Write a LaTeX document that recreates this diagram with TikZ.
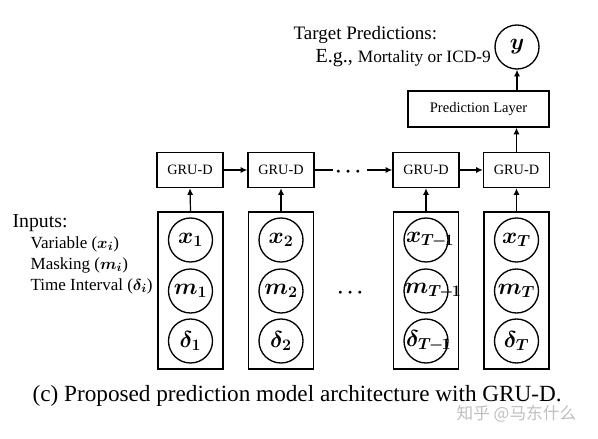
\documentclass[tikz,border=0pt]{standalone}
\usepackage{amsmath}
\usepackage{bm}
\usepackage{fontspec}
\setmainfont{Liberation Serif}
\newfontfamily\cjkfont{Noto Sans CJK SC}
\usetikzlibrary{arrows.meta}
\newcommand{\bsym}[1]{\bm{#1}}
\newcommand{\cl}[1]{\makebox[0pt]{#1}}
\newcommand{\cll}[1]{\makebox[0pt][l]{\hspace{-15pt}#1}}
\newcommand{\tmo}{\bm{T}\mkern-2mu\bm{-}\mkern-2mu\bm{1}}
\begin{document}
\begin{tikzpicture}[x=0.75pt,y=-0.75pt,
  line width=1pt,
  arr/.style={-{Latex[length=5pt,width=4.5pt]},line width=0.9pt},
  grubox/.style={draw,minimum width=49.5pt,minimum height=26.25pt,inner sep=0pt,font=\fontsize{10.7}{12}\selectfont},
  inrect/.style={draw,minimum width=48.75pt,minimum height=117.75pt,inner sep=0pt},
  var/.style={draw,circle,minimum size=33pt,inner sep=0pt,font=\fontsize{18}{20}\selectfont},
  lbl/.style={anchor=base west,inner sep=0pt},
]
\useasboundingbox[fill=white] (0,0) rectangle (598,438);

% GRU-D row
\node[grubox] (g1) at (190,170) {GRU-D};
\node[grubox] (g2) at (281,170) {GRU-D};
\node[grubox] (g3) at (426,170) {GRU-D};
\node[grubox] (g4) at (516.5,170) {GRU-D};

% prediction layer and output
\node[draw,minimum width=105.75pt,minimum height=27pt,inner sep=0pt,font=\fontsize{10.9}{12}\selectfont] (pl) at (478.5,109) {Prediction Layer};
\node[var] (y) at (517,47) {$\bsym{y}$};

% input rectangles
\node[inrect] (r1) at (190.5,290.5) {};
\node[inrect] (r2) at (281,290.5) {};
\node[inrect] (r3) at (426,290.5) {};
\node[inrect] (r4) at (516.5,290.5) {};

% circles
\node[var] (x1) at (190.5,240) {\cl{$\bsym{x}_{\bsym{1}}$}};
\node[var] (m1) at (190.5,291) {\cl{$\bsym{m}_{\bsym{1}}$}};
\node[var] (d1) at (190.5,341) {\cl{$\bsym{\delta}_{\bsym{1}}$}};
\node[var] (x2) at (281,240) {\cl{$\bsym{x}_{\bsym{2}}$}};
\node[var] (m2) at (281,291) {\cl{$\bsym{m}_{\bsym{2}}$}};
\node[var] (d2) at (281,341) {\cl{$\bsym{\delta}_{\bsym{2}}$}};
\node[var] (x3) at (426,240) {\cll{$\bsym{x}_{\tmo}$}};
\node[var] (m3) at (426,291) {\cll{\hspace{-1pt}$\bsym{m}_{\tmo}$}};
\node[var] (d3) at (426,341) {\cll{$\bsym{\delta}_{\tmo}$}};
\node[var] (x4) at (516.5,240) {\cl{$\bsym{x}_{\bsym{T}}$}};
\node[var] (m4) at (516.5,291) {\cl{$\bsym{m}_{\bsym{T}}$}};
\node[var] (d4) at (516.5,341) {\cl{$\bsym{\delta}_{\bsym{T}}$}};

% connectors
\draw[arr] (r1.north) -- (g1.south);
\draw[arr] (r2.north) -- (g2.south);
\draw[arr] (r3.north) -- (g3.south);
\draw[arr] (r4.north) -- (g4.south);
\draw[arr] (g1.east) -- (g2.west);
\coordinate (c1) at (333,170);
\coordinate (c2) at (367,170);
\draw (g2.east) -- (c1);
\node[inner sep=0pt,font=\fontsize{15}{15}\selectfont] (dt) at (350,172) {$\bm{\cdots}$};
\draw[arr] (c2) -- (g3.west);
\draw[arr] (g3.east) -- (g4.west);
\draw[arr] (g4.north) -- (pl.south -| g4.north);
\draw[arr] (pl.north -| y.south) -- (y.south);
\node[inner sep=0pt,font=\fontsize{15}{15}\selectfont] (db) at (352,293) {$\bm{\cdots}$};

% texts
\node[lbl,font=\fontsize{14.25}{16}\selectfont] (tp) at (293,40) {Target Predictions:};
\node[lbl] (eg) at (315,63) {\fontsize{15}{16}\selectfont E.g., \fontsize{13}{16}\selectfont Mortality or ICD-9};

\node[lbl,font=\fontsize{14.8}{16}\selectfont] (inp) at (12,227) {Inputs:};
\node[lbl,font=\fontsize{12.75}{14}\selectfont] (v1) at (30,248) {Variable ($\bsym{x}_{\bsym{i}}$)};
\node[lbl,font=\fontsize{12.75}{14}\selectfont] (v2) at (30,269) {Masking ($\bsym{m}_{\bsym{i}}$)};
\node[lbl,font=\fontsize{12.75}{14}\selectfont] (v3) at (30,290) {Time Interval ($\bsym{\delta}_{\bsym{i}}$)};

\node[lbl,font=\fontsize{17.4}{20}\selectfont] (cap) at (32,401) {(c) Proposed prediction model architecture with GRU-D.};
\node[anchor=west,inner sep=0pt,text=black!25,font=\cjkfont\fontsize{12.5}{14}\selectfont] (wm) at (456,414) {知乎 @马东什么};
\end{tikzpicture}
\end{document}
